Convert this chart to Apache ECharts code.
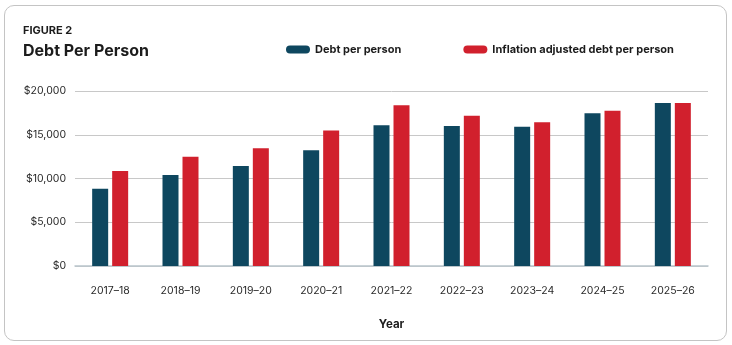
<!DOCTYPE html>
<html>
<head>
<meta charset="utf-8">
<script src="https://cdn.jsdelivr.net/npm/echarts@6/dist/echarts.min.js"></script>
<style>
  html, body { margin: 0; padding: 0; background: #fff; }
  #frame {
    position: absolute; left: 4px; top: 5px; width: 721px; height: 334px;
    border: 1.5px solid #c4c4c4; border-radius: 10px;
  }
  #container { position: absolute; left: 0; top: 0; width: 732px; height: 345px; }
</style>
</head>
<body>
<div id="frame"></div>
<div id="container"></div>
<script>
"use strict";

const years = ["2017–18", "2018–19", "2019–20", "2020–21", "2021–22", "2022–23", "2023–24", "2024–25", "2025–26"];
const debtPerPerson = [8830, 10400, 11430, 13220, 16080, 16000, 15920, 17450, 18630];
const inflationAdjusted = [10850, 12500, 13450, 15500, 18360, 17180, 16420, 17750, 18630];

const pill = 'path://M4,0 H20 A4,4 0 0 1 20,8 H4 A4,4 0 0 1 4,0 Z';
let myChart = echarts.init(document.getElementById('container'));

let option = {
  animation: false,
  textStyle: { fontFamily: 'Inter' },
  title: [
    {
      text: 'FIGURE 2',
      left: 18, top: 20,
      textStyle: { fontSize: 11, fontWeight: 'bold', color: '#1c1c1c' },
    },
    {
      text: 'Debt Per Person',
      left: 18, top: 38,
      textStyle: { fontSize: 16, fontWeight: 'bold', color: '#1c1c1c' },
    },
  ],
  legend: {
    left: 286, top: 44, padding: 0,
    itemWidth: 24, itemHeight: 8, itemGap: 62,
    icon: pill,
    textStyle: { fontSize: 11, fontWeight: 'bold', color: '#1c1c1c' },
    data: ['Debt per person', 'Inflation adjusted debt per person'],
  },
  grid: { left: 75, right: 24, top: 91, bottom: 79 },
  xAxis: {
    type: 'category',
    data: years,
    name: 'Year',
    nameLocation: 'middle',
    nameGap: 53,
    nameTextStyle: { fontSize: 11.5, fontWeight: 'bold', color: '#1c1c1c' },
    axisLine: { lineStyle: { color: '#b9c5cc', width: 1.5 } },
    axisTick: { alignWithLabel: true, length: 5, lineStyle: { color: '#b9c5cc' } },
    axisLabel: { fontSize: 10.5, color: '#2a2a2a', margin: 19 },
  },
  yAxis: {
    type: 'value',
    min: 0, max: 20000, interval: 5000,
    axisLabel: {
      fontSize: 10.5, color: '#2a2a2a', margin: 9,
      formatter: v => '$' + v.toLocaleString('en-US'),
    },
    splitLine: { lineStyle: { color: '#c8c8c8', width: 1 } },
  },
  series: [
    {
      name: 'Debt per person',
      type: 'bar',
      data: debtPerPerson,
      barWidth: 16,
      barGap: '25%',
      itemStyle: { color: '#0e475f' },
    },
    {
      name: 'Inflation adjusted debt per person',
      type: 'bar',
      data: inflationAdjusted,
      barWidth: 16,
      itemStyle: { color: '#d1202d' },
    },
  ],
};

myChart.setOption(option);
</script>
</body>
</html>
